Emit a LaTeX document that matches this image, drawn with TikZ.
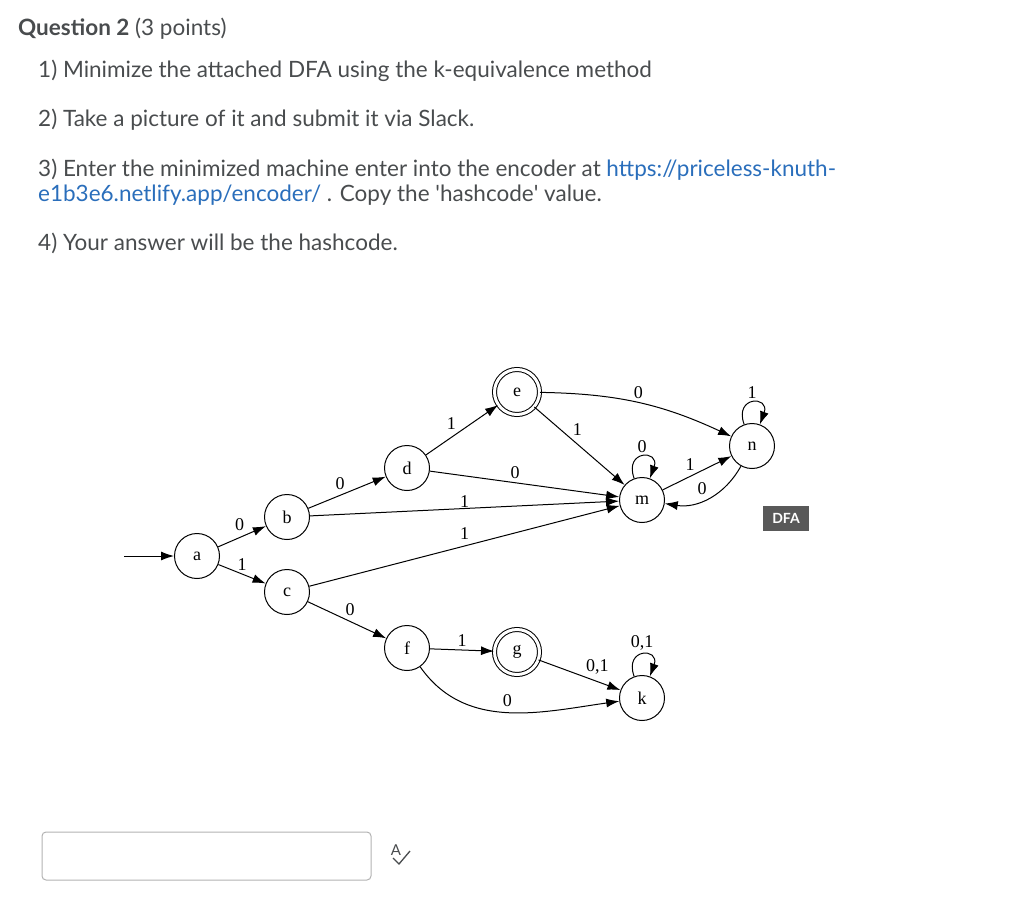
\documentclass[tikz,border=0pt]{standalone}
\usepackage{fontspec}
\setmainfont{Lato}
\newfontfamily\tms{Liberation Serif}
\usetikzlibrary{arrows.meta}
\definecolor{txt}{HTML}{494C4E}
\definecolor{lnk}{HTML}{2A6EBB}
\begin{document}
\begin{tikzpicture}[x=1pt,y=-1pt,
  st/.style={circle,draw,line width=1pt,minimum size=45pt,inner sep=0pt,font=\tms\fontsize{18}{18}\selectfont},
  acc/.style={st,double,double distance=3pt},
  ed/.style={line width=1pt,-{Latex[length=13pt,width=9pt]}},
  lb/.style={font=\tms\fontsize{18}{18}\selectfont,inner sep=1pt},
  para/.style={anchor=base west,inner sep=0pt,text=txt,font=\fontsize{22.5}{26}\selectfont}]
\useasboundingbox (0,0) rectangle (1024,923);
\node[para,font=\fontsize{22.5}{26}\selectfont] (q) at (18,36) {\textbf{Question 2} (3 points)};
\node[para] (l1) at (38,78) {1) Minimize the attached DFA using the k-equivalence method};
\node[para] (l2) at (38,126) {2) Take a picture of it and submit it via Slack.};
\node[para] (l3) at (38,176) {3) Enter the minimized machine enter into the encoder at \textcolor{lnk}{https://priceless-knuth-}};
\node[para] (l3b) at (38,201) {\textcolor{lnk}{e1b3e6.netlify.app/encoder/} . Copy the \textquotesingle hashcode\textquotesingle{} value.};
\node[para] (l4) at (38,250) {4) Your answer will be the hashcode.};

\node[st] (a) at (197,556) {a};
\node[st] (b) at (287,517) {b};
\node[st] (c) at (287,592) {c};
\node[st] (d) at (407,468) {d};
\node[acc] (e) at (517,392) {e};
\node[st] (m) at (642,500) {m};
\node[st] (n) at (752,446) {n};
\node[st] (f) at (407,648) {f};
\node[acc] (g) at (517,652) {g};
\node[st] (k) at (642,698) {k};
\coordinate (s) at (124,556);

\draw[ed] (s) -- (a);
\draw[ed] (a) -- node[lb,pos=0.45,above=5pt] {0} (b);
\draw[ed] (a) -- node[lb,pos=0.5,above=2pt] {1} (c);
\draw[ed] (b) -- node[lb,pos=0.5,above left=1pt] {0} (d);
\draw[ed] (b) -- node[lb,pos=0.5,above] {1} (m);
\draw[ed] (c) -- node[lb,pos=0.5,above=5pt] {1} (m);
\draw[ed] (c) -- node[lb,pos=0.45,above right=1pt] {0} (f);
\draw[ed] (d) -- node[lb,pos=0.45,above left=1pt] {1} (e);
\draw[ed] (d) -- node[lb,pos=0.45,above=3pt] {0} (m);
\draw[ed] (e) -- node[lb,pos=0.4,above right=1pt] {1} (m);
\draw[ed] (e) to[bend left=12] node[lb,pos=0.5,above=3pt] {0} (n);
\draw[ed] (m) to[out=110,in=70,looseness=5] node[lb,above=3pt] {0} (m);
\draw[ed] (m) -- node[lb,pos=0.5,above left=1pt] {1} (n);
\draw[ed] (n) to[bend left=35] node[lb,pos=0.5,above left=1pt] {0} (m);
\draw[ed] (n) to[out=110,in=70,looseness=5] node[lb,above=3pt] {1} (n);
\draw[ed] (f) -- node[lb,pos=0.5,above=2pt] {1} (g);
\draw[ed] (f) to[out=-55,in=188] node[lb,pos=0.5,above=4pt] {0} (k);
\draw[ed] (g) -- node[lb,pos=0.55,above right=1pt] {0,1} (k);
\draw[ed] (k) to[out=110,in=70,looseness=5] node[lb,above=3pt] {0,1} (k);

\node[fill=gray!70!black,text=white,font=\bfseries\fontsize{14}{14}\selectfont,minimum width=46pt,minimum height=25pt,inner sep=0pt] (dfa) at (786,518) {DFA};

\draw[gray!60,line width=1pt,rounded corners=4pt] (42,832) rectangle (371,880);
\node[text=txt,font=\fontsize{15}{15}\selectfont,inner sep=0pt] (ic) at (396,850) {A};
\draw[txt,line width=1.3pt] (393,858) -- (399,864) -- (410,851);
\end{tikzpicture}
\end{document}
